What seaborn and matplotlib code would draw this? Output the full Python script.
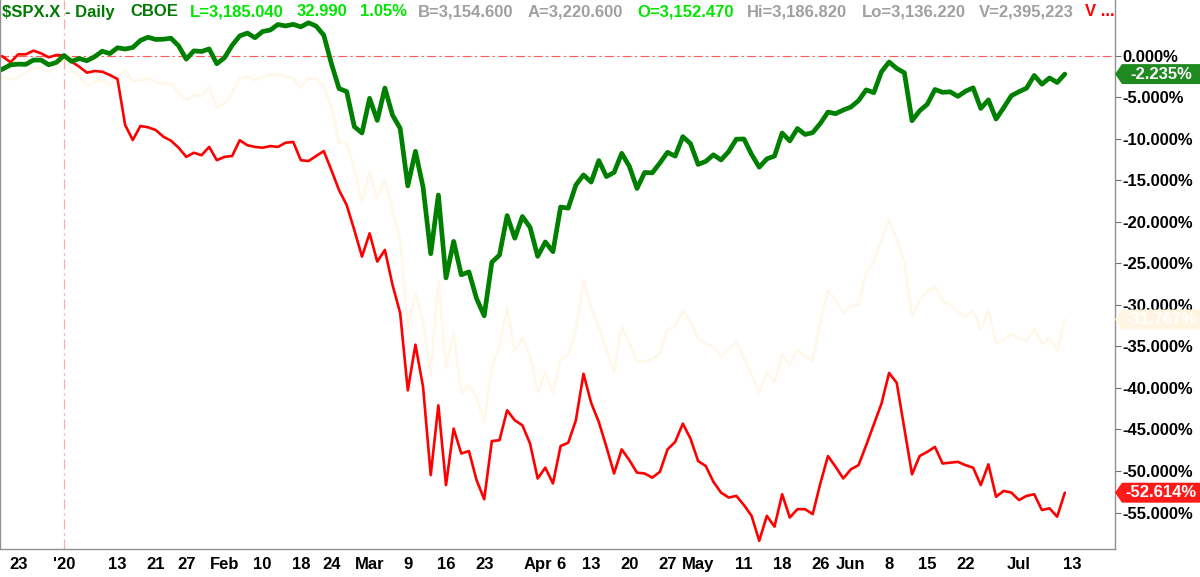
import pandas as pd
import seaborn as sns
import matplotlib.pyplot as plt
from matplotlib.patches import Polygon
from matplotlib.transforms import blended_transform_factory

# trading-day index, 0 = Jan 2 2020 (comparison base), 131 = Jul 10 2020
days = list(range(-9, 132))

# $SPX.X, % change from base
spx_pct = [
    -2.05, -1.61, -1.12, -1.04, -1.06, -0.55, -0.55, -1.12, -0.83,
    0.00, -0.71, -0.36, -0.63, -0.15, 0.52, 0.23, 0.93, 0.78, 0.97, 1.81, 2.20, 1.93, 1.96, 2.08, 1.16, -0.44, 0.56, 0.48, 0.79, -0.99,
    -0.27, 1.22, 2.36, 2.70, 2.14, 2.89, 3.07, 3.73, 3.56, 3.75, 3.45, 3.94, 3.54, 2.45, -0.98, -3.98, -4.34, -8.57, -9.32,
    -5.15, -7.81, -3.92, -7.18, -8.76, -15.69, -11.53, -15.85, -23.86, -16.79, -26.76, -22.37, -26.39, -26.04, -29.25, -31.32, -24.88, -24.01, -19.27, -21.99, -19.38, -20.67,
    -24.17, -22.44, -23.61, -18.24, -18.37, -15.59, -14.37, -15.23, -12.64, -14.57, -14.07, -11.77, -13.34, -16.00, -14.08, -14.12, -12.93, -11.65, -12.11, -9.77, -10.60,
    -13.11, -12.74, -11.95, -12.57, -11.56, -10.07, -10.05, -11.90, -13.44, -12.44, -12.10, -9.33, -10.28, -8.79, -9.50, -9.28, -8.17, -6.81, -7.00, -6.56,
    -6.20, -5.43, -4.14, -4.47, -1.96, -0.78, -1.56, -2.08, -7.85, -6.65, -5.87, -4.09, -4.43, -4.37, -4.92, -4.30, -3.89, -6.37, -5.34, -7.64, -6.28, -4.84,
    -4.36, -3.92, -2.40, -3.45, -2.70, -3.25, -2.235,
]

# red comparison symbol
red_pct = [
    0.20, -0.14, -0.82, 0.14, 0.14, 0.58, 0.26, -0.22, 0.06,
    0.00, -0.75, -1.35, -2.07, -1.87, -1.95, -2.35, -2.83, -8.36, -10.17, -8.48, -8.64, -8.97, -9.77, -10.25, -11.1, -12.2, -11.7, -12.0, -11.0, -12.6,
    -12.2, -12.1, -10.2, -10.8, -11.0, -11.1, -10.9, -11.0, -10.5, -10.4, -12.6, -12.7, -12.1, -11.5, -13.8, -16.2, -18.0, -21.0, -24.2,
    -21.4, -24.8, -23.4, -27.6, -31.0, -40.3, -34.8, -39.9, -50.5, -42.1, -51.7, -44.9, -47.9, -47.6, -51.1, -53.4, -46.4, -46.3, -42.7, -43.9, -44.5, -46.7,
    -50.9, -49.6, -51.5, -47.0, -46.6, -43.9, -38.3, -41.8, -44.1, -47.1, -50.3, -47.4, -48.7, -50.2, -50.3, -50.8, -50.1, -47.4, -46.5, -44.3, -46.1,
    -48.8, -49.4, -51.3, -52.6, -53.2, -53.0, -54.1, -55.4, -58.4, -55.4, -56.7, -52.8, -55.6, -54.6, -54.6, -55.2, -51.5, -48.2, -49.5, -50.9,
    -49.8, -49.3, -46.9, -44.4, -41.9, -38.2, -39.4, -44.9, -50.4, -48.2, -47.7, -47.1, -49.1, -49.0, -48.9, -49.3, -49.6, -51.7, -49.2, -53.1, -52.4, -52.6,
    -53.5, -53.0, -52.8, -54.7, -54.5, -55.5, -52.614,
]

# faint beige comparison symbol
beige_pct = [
    -2.60, -2.55, -2.86, -2.62, -1.99, -1.54, -1.54, -1.99, -1.54,
    0.00, -1.87, -2.35, -3.67, -3.15, -2.95, -3.55, -2.74, -1.74, -3.15, -2.95, -2.74, -3.15, -3.35, -3.35, -4.39, -5.35, -4.75, -4.87, -3.75, -6.23,
    -5.75, -4.55, -2.74, -2.55, -2.95, -2.55, -2.35, -2.26, -2.55, -2.74, -3.91, -2.74, -2.74, -3.67, -6.20, -10.5, -10.4, -13.8, -17.6,
    -14.0, -17.2, -15.0, -18.6, -22.2, -33.0, -28.6, -32.0, -38.4, -27.0, -37.6, -33.4, -40.6, -39.7, -41.1, -44.1, -37.4, -35.0, -30.4, -35.6, -34.0, -36.2,
    -40.5, -38.2, -40.6, -36.6, -36.0, -33.2, -27.0, -30.4, -32.6, -35.4, -38.2, -32.6, -34.6, -36.8, -36.8, -36.6, -35.8, -33.0, -32.6, -30.7, -32.1,
    -34.0, -34.7, -35.0, -36.2, -35.4, -34.4, -36.4, -38.4, -40.6, -38.1, -39.3, -36.0, -37.2, -35.4, -36.2, -36.7, -32.0, -28.3, -29.4, -31.0,
    -30.2, -29.9, -26.2, -24.8, -22.2, -19.8, -22.1, -24.8, -31.4, -29.4, -28.4, -27.8, -29.5, -30.0, -30.8, -31.5, -30.7, -33.0, -30.6, -34.6, -34.2, -33.5,
    -34.0, -34.4, -32.9, -34.7, -34.0, -35.5, -31.767,
]

tick_days = [-6, -2, 0, 2, 7, 12, 16, 21, 26, 31, 35, 40, 45, 50, 55, 60, 62, 65, 69, 74, 79,
             83, 84, 89, 94, 99, 103, 108, 113, 118, 123, 125, 127, 132]
tick_text = ['23', '', "'20", '', '13', '21', '27', 'Feb', '10', '18', '24', 'Mar', '9', '16', '23', '', 'Apr', '6',
             '13', '20', '27', 'May', '', '11', '18', '26', 'Jun', '8', '15', '22', '', 'Jul', '', '13']
pct_ticks = [0, -5, -10, -15, -20, -25, -30, -35, -40, -45, -50, -55]

df = pd.DataFrame({'day': days, 'spx': spx_pct, 'red': red_pct, 'beige': beige_pct})

sns.set_style("white")
plt.rcParams['font.family'] = ['Liberation Sans', 'DejaVu Sans']
plt.rcParams['font.weight'] = 'bold'

fig = plt.figure(figsize=(12, 5.77), dpi=100)
ax = fig.add_axes([0, 28 / 577, 1115 / 1200, 549 / 577])

beige = '#FFF8EA'
sns.lineplot(data=df, x='day', y='beige', ax=ax, color=beige, linewidth=1.9)
sns.lineplot(data=df, x='day', y='red', ax=ax, color='#FF0000', linewidth=1.9)
sns.lineplot(data=df, x='day', y='spx', ax=ax, color='#008000', linewidth=3.4)

ax.axhline(0, color='#FF5A5A', linewidth=0.8, dashes=(8, 3, 2, 3), zorder=1)
ax.axvline(0, color='#FFABAB', linewidth=0.9, dashes=(8, 3, 2, 3), zorder=1)

ax.set_xlim(-8.38, 137.57)
ax.set_ylim(-59.39, 6.68)
ax.set_xlabel('')
ax.set_ylabel('')

ax.yaxis.tick_right()
ax.set_yticks(pct_ticks)
ax.set_yticklabels([f'{v:.3f}%' for v in pct_ticks])
ax.set_xticks(tick_days)
ax.set_xticklabels(tick_text)
ax.tick_params(axis='y', direction='out', length=4.5, width=0.8, color='#707070', pad=1,
               labelsize=12, labelcolor='black')
ax.tick_params(axis='x', direction='out', length=4, width=0.8, color='#909090', pad=2,
               labelsize=12, labelcolor='black')

for side in ['left', 'right', 'bottom']:
    ax.spines[side].set_color('#909090')
    ax.spines[side].set_linewidth(1)
ax.spines['top'].set_visible(False)

# last-value tags on the right axis
trans = blended_transform_factory(fig.transFigure, ax.transData)
tags = [(-2.235, '#1F8A1F'), (-52.614, '#FF1A1A'), (-31.767, '#FFF5E2')]
x0, x1, x2 = 1115 / 1200, 1122 / 1200, 1.0
for val, col in tags:
    h = 1.2
    poly = Polygon([(x0, val), (x1, val + h), (x2, val + h), (x2, val - h), (x1, val - h)],
                   closed=True, transform=trans, facecolor=col, edgecolor='none',
                   clip_on=False, zorder=6)
    ax.add_patch(poly)
    ax.text((x1 + x2) / 2, val, f'{val:.3f}%', transform=trans, ha='center', va='center',
            color='white', fontsize=12, fontweight='bold', zorder=7, clip_on=False)

# header line
header = [
    (2, '$SPX.X - Daily', '#007A00'),
    (130, 'CBOE', '#007A00'),
    (190, 'L=3,185.040', '#00E600'),
    (297, '32.990', '#00E600'),
    (360, '1.05%', '#00E600'),
    (418, 'B=3,154.600', '#A0A0A0'),
    (528, 'A=3,220.600', '#A0A0A0'),
    (637, 'O=3,152.470', '#00E600'),
    (747, 'Hi=3,186.820', '#A0A0A0'),
    (862, 'Lo=3,136.220', '#A0A0A0'),
    (979, 'V=2,395,223', '#A0A0A0'),
    (1085, 'V ...', '#FF0000'),
]
for xp, txt, col in header:
    fig.text(xp / 1200, 1 - 12 / 577, txt, color=col, fontsize=12, fontweight='bold',
             ha='left', va='center')

fig.savefig('out.png', dpi=100, facecolor='white')
